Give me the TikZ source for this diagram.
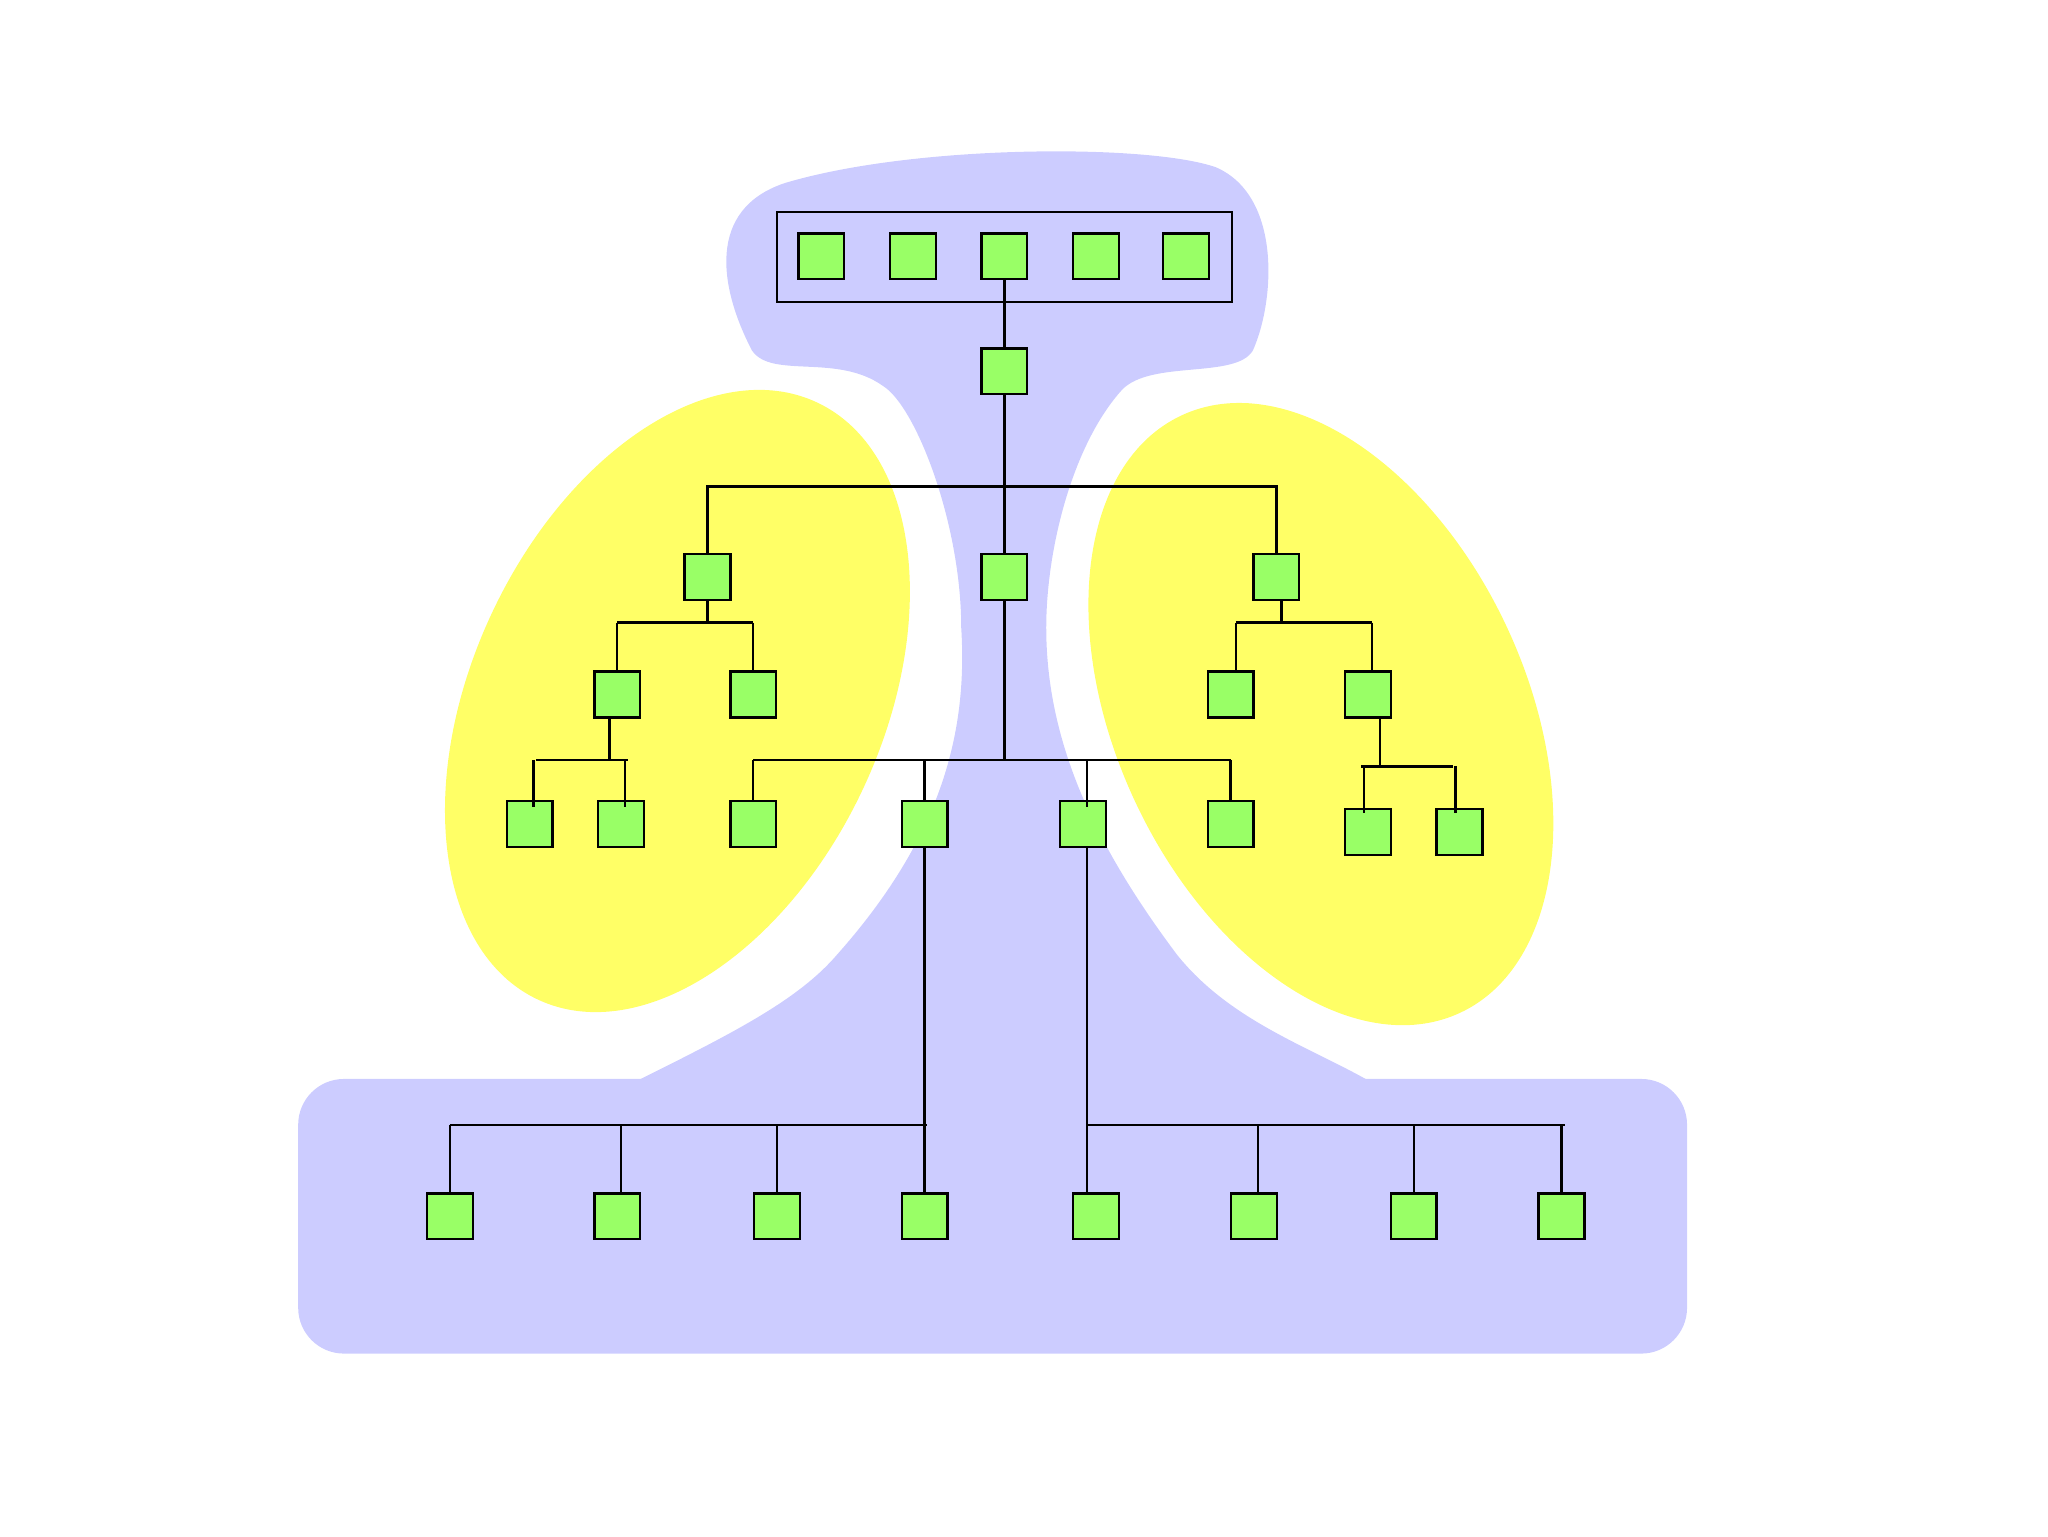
\documentclass[tikz,border=0pt]{standalone}
\begin{document}
\begin{tikzpicture}[x=0.01cm,y=0.01cm,
  bx/.style={draw=black,fill={rgb,255:red,153;green,255;blue,102},minimum size=0.35cm,inner sep=0pt,line width=0.5pt},
  ln/.style={line width=0.5pt}]
\definecolor{blu}{RGB}{204,204,255}
\definecolor{yel}{RGB}{255,255,102}
\useasboundingbox (0,0) rectangle (1566,-1174.5);
% blue shape
\fill[blu, rounded corners=0.35cm] (228,-825) rectangle (1290,-1035);
\fill[blu] (488,-826) .. controls (560,-790) and (610,-765) .. (640,-730)
  .. controls (720,-640) and (740,-560) .. (735,-480)
  .. controls (735,-400) and (700,-310) .. (675,-295)
  .. controls (640,-270) and (590,-290) .. (575,-268)
  .. controls (550,-220) and (540,-160) .. (600,-140)
  .. controls (700,-110) and (880,-110) .. (930,-128)
  .. controls (980,-150) and (975,-230) .. (958,-268)
  .. controls (945,-290) and (880,-275) .. (858,-298)
  .. controls (820,-340) and (800,-420) .. (800,-480)
  .. controls (800,-570) and (840,-650) .. (900,-730)
  .. controls (940,-780) and (1000,-800) .. (1046,-826) -- cycle;
% yellow ellipses
\fill[yel, rotate around={-25:(518,-536)}] (518,-536) ellipse [x radius=157, y radius=252];
\fill[yel, rotate around={25:(1010,-546)}] (1010,-546) ellipse [x radius=157, y radius=252];
% top group
\draw[ln] (594,-162) rectangle (942,-231);
\foreach \i/\x in {1/628,2/698,3/768,4/838,5/907} \node[bx] (t\i) at (\x,-196) {};
\node[bx] (r) at (768,-284) {};
\node[bx] (a) at (541,-441) {};
\node[bx] (b) at (768,-441) {};
\node[bx] (c) at (976,-441) {};
\node[bx] (a1) at (472,-531) {};
\node[bx] (a2) at (576,-531) {};
\node[bx] (a11) at (405,-630) {};
\node[bx] (a12) at (475,-630) {};
\node[bx] (m1) at (576,-630) {};
\node[bx] (m2) at (707,-630) {};
\node[bx] (m3) at (828,-630) {};
\node[bx] (m4) at (941,-630) {};
\node[bx] (c1) at (941,-531) {};
\node[bx] (c2) at (1046,-531) {};
\node[bx] (c21) at (1046,-636) {};
\node[bx] (c22) at (1116,-636) {};
\foreach \i/\x in {1/344,2/472,3/594,4/707,5/838,6/959,7/1081,8/1194} \node[bx] (p\i) at (\x,-930) {};
% connectors
\draw[ln] (t3.south) -- (r.north);
\draw[ln] (r.south) -- (b.north);
\coordinate (barL) at (541,-372); \coordinate (barR) at (976,-372);
\draw[ln] (a.north) -- (barL) -- (barR) -- (c.north);
\draw[ln] (a.south) -- (541,-476);
\draw[ln] (472,-476) -- (576,-476);
\draw[ln] (472,-476) -- (a1.north);
\draw[ln] (576,-476) -- (a2.north);
\draw[ln] (466,-548.5) -- (466,-581);
\draw[ln] (410,-581) -- (480,-581);
\draw[ln] (408,-581) -- (408,-617);
\draw[ln] (478,-581) -- (478,-617);
\draw[ln] (b.south) -- (768,-581);
\draw[ln] (576,-581) -- (941,-581);
\draw[ln] (576,-581) -- (m1.north);
\draw[ln] (707,-581) -- (m2.north);
\draw[ln] (831,-581) -- (831,-617);
\draw[ln] (941,-581) -- (m4.north);
\draw[ln] (980,-458.5) -- (980,-476);
\draw[ln] (945,-476) -- (1049,-476);
\draw[ln] (945,-476) -- (945,-513.5);
\draw[ln] (1049,-476) -- (1049,-513.5);
\draw[ln] (1055,-548.5) -- (1055,-586);
\draw[ln] (1041,-586) -- (1111,-586);
\draw[ln] (1043,-586) -- (1043,-622);
\draw[ln] (1113,-586) -- (1113,-622);
\draw[ln] (m2.south) -- (707,-860);
\draw[ln] (344,-860) -- (709,-860);
\draw[ln] (344,-860) -- (p1.north);
\draw[ln] (475,-860) -- (475,-912.5);
\draw[ln] (594,-860) -- (p3.north);
\draw[ln] (707,-860) -- (p4.north);
\draw[ln] (831,-648.5) -- (831,-860);
\draw[ln] (831,-860) -- (1197,-860);
\draw[ln] (831,-860) -- (831,-912.5);
\draw[ln] (962,-860) -- (962,-912.5);
\draw[ln] (1081,-860) -- (p7.north);
\draw[ln] (1194,-860) -- (p8.north);
\end{tikzpicture}
\end{document}
